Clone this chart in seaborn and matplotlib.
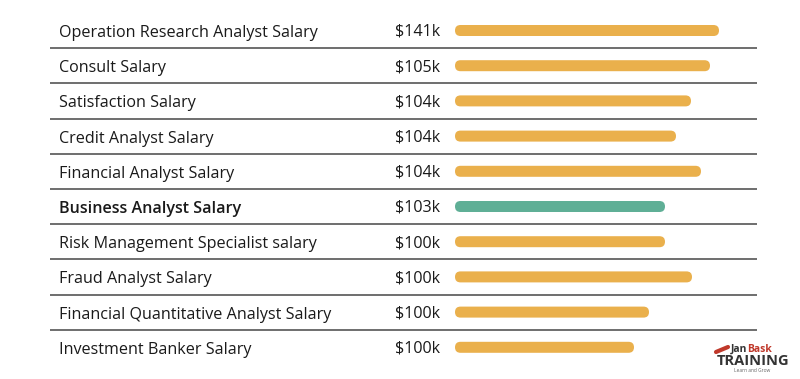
import matplotlib
matplotlib.use("Agg")
import matplotlib.pyplot as plt
import seaborn as sns
import pandas as pd
from matplotlib.patches import FancyBboxPatch

# ---- data ----
jobs = ["Operation Research Analyst Salary", "Consult Salary", "Satisfaction Salary",
        "Credit Analyst Salary", "Financial Analyst Salary", "Business Analyst Salary",
        "Risk Management Specialist salary", "Fraud Analyst Salary",
        "Financial Quantitative Analyst Salary", "Investment Banker Salary"]
salary_labels = ["$141k", "$105k", "$104k", "$104k", "$104k", "$103k",
                 "$100k", "$100k", "$100k", "$100k"]
bar_length = [264, 255, 236, 221, 246, 210, 210, 237, 194, 179]  # drawn bar lengths (px)
highlight = "Business Analyst Salary"

ORANGE = "#EAB04C"
GREEN = "#5FAF96"
colors = [GREEN if j == highlight else ORANGE for j in jobs]

df = pd.DataFrame({"job": jobs, "length": bar_length})

sns.set_theme(style="white")
plt.rcParams["font.family"] = ["Open Sans", "DejaVu Sans"]

W, H = 800, 379
fig = plt.figure(figsize=(W / 100, H / 100), dpi=100)
fig.patch.set_facecolor("white")

row0, step = 30.5, 35.2
ylim = ((H - row0) / step, -row0 / step)

# main axes for text and separators (pixel x units)
ax = fig.add_axes([0, 0, 1, 1])
ax.set_xlim(0, W)
ax.set_ylim(*ylim)
ax.axis("off")

# bar axes starting at the bar origin
bx0 = 455
bax = fig.add_axes([bx0 / W, 0, (W - bx0) / W, 1])
bax.set_xlim(0, W - bx0)
sns.barplot(data=df, x="length", y="job", hue="job", palette=colors,
            legend=False, orient="h", width=11 / step, saturation=1, ax=bax)
bax.set_ylim(*ylim)
bax.axis("off")

# replace plain bars by rounded ones
aspect = 1 / step
for p in list(bax.patches):
    x, y = p.get_x(), p.get_y()
    w, h = p.get_width(), p.get_height()
    fc = p.get_facecolor()
    p.remove()
    bax.add_patch(FancyBboxPatch((x, y), w, h,
                                 boxstyle="round,pad=0,rounding_size=5.5",
                                 mutation_aspect=aspect, fc=fc, ec="none"))

for i, (job, val) in enumerate(zip(jobs, salary_labels)):
    bold = job == highlight
    ax.text(59, i + 0.07, job, ha="left", va="center", fontsize=11.6,
            color="#1a1a1a", fontweight="semibold" if bold else "normal")
    ax.text(395, i + 0.04, val, ha="left", va="center", fontsize=11.6, color="#1a1a1a")
    if i < len(jobs) - 1:
        ax.plot([50, 757], [i + 0.5, i + 0.5], color="#555555", lw=1.2,
                solid_capstyle="butt")

# logo text
ax.text(731, (349 - row0) / step, "Jan", fontsize=7.5, color="#333333",
        ha="left", va="center", fontweight="bold")
ax.text(747, (349 - row0) / step, "Bask", fontsize=7.5, color="#C0392B",
        ha="left", va="center", fontweight="bold")
ax.text(717, (361 - row0) / step, "TRAINING", fontsize=10.5, color="#333333",
        ha="left", va="center", fontweight="bold")
ax.text(752, (370 - row0) / step, "Learn and Grow", fontsize=3.5, color="#666666",
        ha="center", va="center")
ax.plot([716, 728], [(352 - row0) / step, (347 - row0) / step], color="#C0392B", lw=3)

fig.savefig("out.png", dpi=100, facecolor="white")
